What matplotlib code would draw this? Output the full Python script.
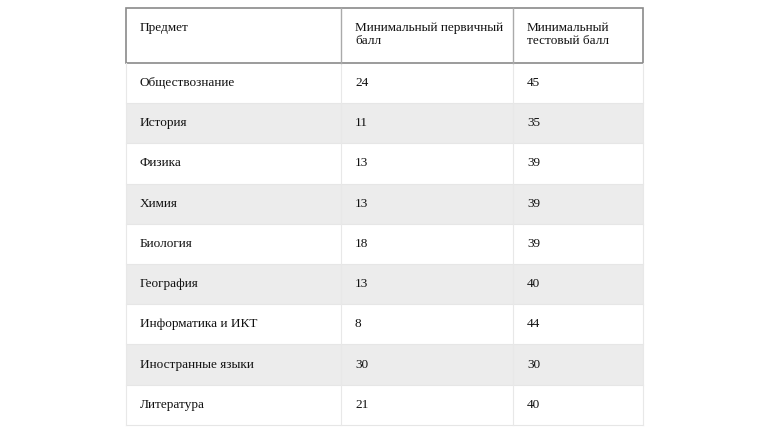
import matplotlib
matplotlib.use("Agg")
import matplotlib.pyplot as plt
from matplotlib.patches import Rectangle

headers = ["Предмет", "Минимальный первичный\nбалл", "Минимальный\nтестовый балл"]
subjects = ["Обществознание", "История", "Физика", "Химия", "Биология", "География",
            "Информатика и ИКТ", "Иностранные языки", "Литература"]
primary = [24, 11, 13, 13, 18, 13, 8, 30, 21]
test = [45, 35, 39, 39, 39, 40, 44, 30, 40]

W, H = 765, 430
fig = plt.figure(figsize=(W/100, H/100), dpi=100)
ax = fig.add_axes([0, 0, 1, 1])
ax.set_xlim(0, W); ax.set_ylim(H, 0); ax.axis("off")

cols = [126, 341, 513, 643]
top, hdr_bot, row_h = 8, 63, 40.2
font = dict(family="Liberation Serif", fontsize=9.5, color="#111111")

for i in range(len(subjects)):
    y0 = hdr_bot + i*row_h
    fc = "#ececec" if i % 2 == 1 else "white"
    ax.add_patch(Rectangle((cols[0], y0), cols[-1]-cols[0], row_h, fc=fc, ec="none"))
    ax.plot([cols[0], cols[-1]], [y0+row_h, y0+row_h], color="#e6e6e6", lw=0.8)
    for j, v in enumerate([subjects[i], primary[i], test[i]]):
        ax.text(cols[j]+14, y0+row_h/2, str(v), va="center", ha="left", **font)
for x in cols:
    ax.plot([x, x], [hdr_bot, hdr_bot+len(subjects)*row_h], color="#e8e8e8", lw=0.8)

# header
ax.add_patch(Rectangle((cols[0], top), cols[-1]-cols[0], hdr_bot-top, fc="white", ec="#8a8a8a", lw=1.2))
for x in cols[1:-1]:
    ax.plot([x, x], [top, hdr_bot], color="#aaaaaa", lw=1.0)
for j, h in enumerate(headers):
    ax.text(cols[j]+14, top+14, h, va="top", ha="left", linespacing=1.15, **font)

fig.savefig("out.png", dpi=100)
